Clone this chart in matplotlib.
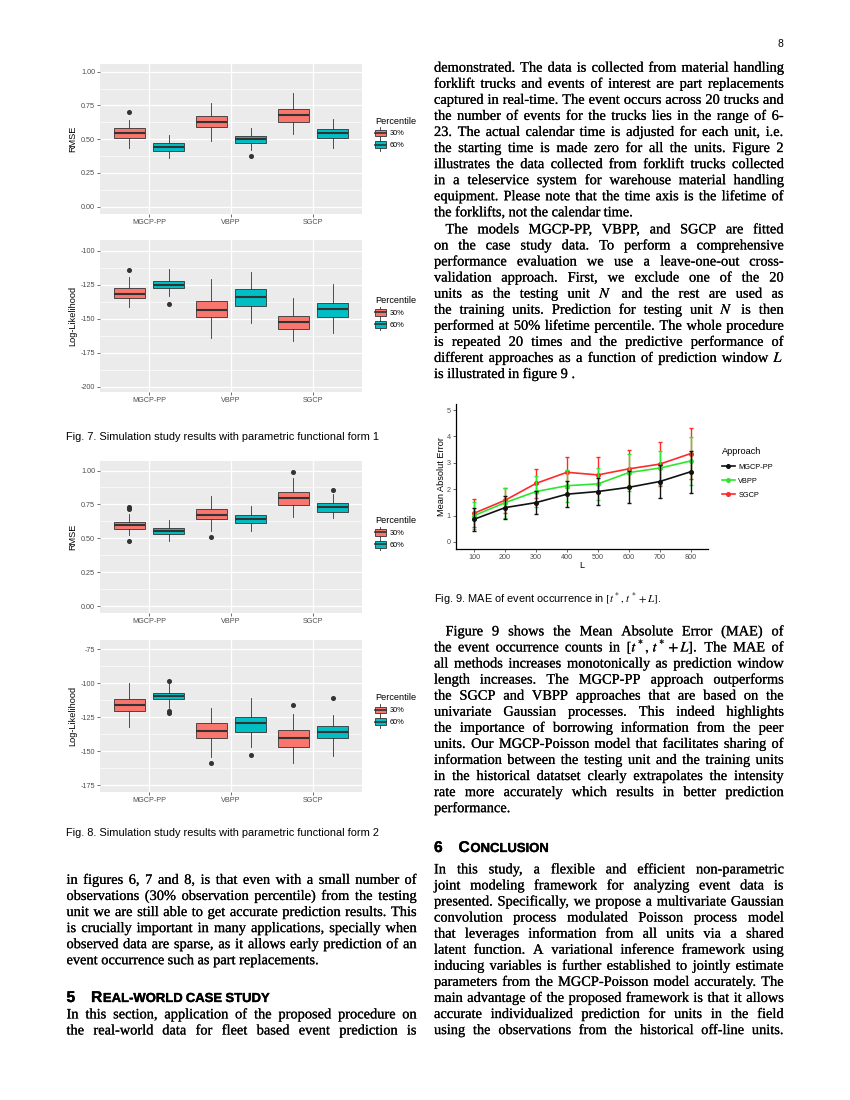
import matplotlib
matplotlib.use('Agg')
import matplotlib.pyplot as plt
import numpy as np
from matplotlib.transforms import IdentityTransform
from matplotlib.legend_handler import HandlerBase
from matplotlib.patches import Rectangle, Patch
from matplotlib.lines import Line2D
import matplotlib.patheffects as pe

plt.rcParams['mathtext.fontset'] = 'stix'

# ---------------- data ----------------
methods = ["MGCP-PP", "VBPP", "SGCP"]
percentiles = ["30%", "60%"]
fills = ["#F8766D", "#00BFC4"]

# Fig 7 RMSE  (rows: 30%, 60%; cols: MGCP-PP, VBPP, SGCP)
f7_rmse_q1 = [[0.511, 0.588, 0.630], [0.415, 0.472, 0.509]]
f7_rmse_med = [[0.548, 0.627, 0.679], [0.442, 0.499, 0.548]]
f7_rmse_q3 = [[0.580, 0.674, 0.721], [0.469, 0.523, 0.578]]
f7_rmse_lo = [[0.437, 0.486, 0.538], [0.363, 0.420, 0.437]]
f7_rmse_hi = [[0.642, 0.770, 0.842], [0.531, 0.580, 0.647]]
f7_rmse_out = [[[0.70], [], []], [[], [0.378], []]]

# Fig 7 Log-likelihood
f7_ll_q1 = [[-135.0, -148.5, -157.8], [-127.7, -140.7, -149.0]]
f7_ll_med = [[-131.6, -143.9, -152.5], [-125.2, -134.0, -143.1]]
f7_ll_q3 = [[-127.7, -136.8, -148.0], [-122.0, -128.4, -138.5]]
f7_ll_lo = [[-141.2, -164.0, -166.4], [-133.3, -152.9, -160.3]]
f7_ll_hi = [[-119.6, -121.0, -134.6], [-113.7, -116.0, -124.8]]
f7_ll_out = [[[-114.2], [], []], [[-139.2], [], []]]

# Fig 8 RMSE
f8_rmse_q1 = [[0.569, 0.643, 0.746], [0.534, 0.616, 0.697]]
f8_rmse_med = [[0.596, 0.672, 0.800], [0.554, 0.643, 0.732]]
f8_rmse_q3 = [[0.623, 0.717, 0.845], [0.574, 0.670, 0.759]]
f8_rmse_lo = [[0.525, 0.554, 0.655], [0.480, 0.554, 0.648]]
f8_rmse_hi = [[0.677, 0.813, 0.943], [0.633, 0.736, 0.825]]
f8_rmse_out = [[[0.734, 0.722, 0.715, 0.480], [0.512], [0.988]], [[], [], [0.855]]]

# Fig 8 Log-likelihood
f8_ll_q1 = [[-120.7, -140.6, -146.7], [-111.9, -135.7, -140.1]]
f8_ll_med = [[-116.3, -135.2, -139.9], [-109.2, -129.5, -135.7]]
f8_ll_q3 = [[-111.4, -129.0, -134.5], [-107.0, -125.1, -131.3]]
f8_ll_lo = [[-132.0, -154.0, -158.3], [-118.0, -146.7, -153.4]]
f8_ll_hi = [[-100.0, -118.0, -122.9], [-100.8, -110.6, -123.4]]
f8_ll_out = [[[], [-158.5], [-116.0]], [[-98.1, -120.5, -121.7], [-152.9], [-111.1]]]

# Fig 9 MAE
L_values = [100, 200, 300, 400, 500, 600, 700, 800]
mae_mgcp = [0.86, 1.30, 1.49, 1.81, 1.91, 2.07, 2.29, 2.66]
sd_mgcp = [0.44, 0.43, 0.43, 0.50, 0.51, 0.60, 0.62, 0.80]
mae_vbpp = [1.00, 1.49, 1.91, 2.13, 2.20, 2.63, 2.80, 3.07]
sd_vbpp = [0.50, 0.57, 0.60, 0.60, 0.62, 0.70, 0.65, 0.90]
mae_sgcp = [1.09, 1.58, 2.22, 2.64, 2.54, 2.77, 2.95, 3.35]
sd_sgcp = [0.52, 0.48, 0.56, 0.58, 0.69, 0.73, 0.83, 0.96]
approaches = ["MGCP-PP", "VBPP", "SGCP"]
approach_colors = ["#111111", "#2EE62E", "#FF2A2A"]

# ---------------- text ----------------
par_right_a = [
    "demonstrated. The data is collected from material handling",
    "forklift trucks and events of interest are part replacements",
    "captured in real-time. The event occurs across 20 trucks and",
    "the number of events for the trucks lies in the range of 6-",
    "23. The actual calendar time is adjusted for each unit, i.e.",
    "the starting time is made zero for all the units. Figure 2",
    "illustrates the data collected from forklift trucks collected",
    "in a teleservice system for warehouse material handling",
    "equipment. Please note that the time axis is the lifetime of",
    "the forklifts, not the calendar time.",
]
par_right_b = [
    "The models MGCP-PP, VBPP, and SGCP are fitted",
    "on the case study data. To perform a comprehensive",
    "performance evaluation we use a leave-one-out cross-",
    "validation approach. First, we exclude one of the 20",
    "units as the testing unit $N$ and the rest are used as",
    "the training units. Prediction for testing unit $N$ is then",
    "performed at 50% lifetime percentile. The whole procedure",
    "is repeated 20 times and the predictive performance of",
    "different approaches as a function of prediction window $L$",
    "is illustrated in figure 9 .",
]
par_right_c = [
    "Figure 9 shows the Mean Absolute Error (MAE) of",
    "the event occurrence counts in $[t^*,\\,t^*+L]$. The MAE of",
    "all methods increases monotonically as prediction window",
    "length increases. The MGCP-PP approach outperforms",
    "the SGCP and VBPP approaches that are based on the",
    "univariate Gaussian processes. This indeed highlights",
    "the importance of borrowing information from the peer",
    "units. Our MGCP-Poisson model that facilitates sharing of",
    "information between the testing unit and the training units",
    "in the historical datatset clearly extrapolates the intensity",
    "rate more accurately which results in better prediction",
    "performance.",
]
par_right_d = [
    "In this study, a flexible and efficient non-parametric",
    "joint modeling framework for analyzing event data is",
    "presented. Specifically, we propose a multivariate Gaussian",
    "convolution process modulated Poisson process model",
    "that leverages information from all units via a shared",
    "latent function. A variational inference framework using",
    "inducing variables is further established to jointly estimate",
    "parameters from the MGCP-Poisson model accurately. The",
    "main advantage of the proposed framework is that it allows",
    "accurate individualized prediction for units in the field",
    "using the observations from the historical off-line units.",
]
par_left_e = [
    "in figures 6, 7 and 8, is that even with a small number of",
    "observations (30% observation percentile) from the testing",
    "unit we are still able to get accurate prediction results. This",
    "is crucially important in many applications, specially when",
    "observed data are sparse, as it allows early prediction of an",
    "event occurrence such as part replacements.",
]
par_left_f = [
    "In this section, application of the proposed procedure on",
    "the real-world data for fleet based event prediction is",
]
cap7 = "Fig. 7. Simulation study results with parametric functional form 1"
cap8 = "Fig. 8. Simulation study results with parametric functional form 2"
cap9 = "Fig. 9. MAE of event occurrence in $[t^*,\\,t^*+L]$."

# ---------------- figure ----------------
W, H = 850, 1100
fig = plt.figure(figsize=(8.5, 11), dpi=100)
fig.patch.set_facecolor('white')
IDT = IdentityTransform()
R = fig.canvas.get_renderer()

SANS = 'Liberation Sans'
SERIF = 'Liberation Serif'


def T(x, y, s, **kw):
    return fig.text(x, H - y, s, transform=IDT, **kw)


def measure(s, **kw):
    t = fig.text(0, 0, s, transform=IDT, **kw)
    w = t.get_window_extent(renderer=R).width
    t.remove()
    return w


def axes_px(x0, y0, x1, y1):
    return fig.add_axes([x0 / W, 1 - y1 / H, (x1 - x0) / W, (y1 - y0) / H])


class BoxKey(HandlerBase):
    def create_artists(self, legend, orig, xd, yd, width, height, fontsize, trans):
        x0, y0 = -xd, -yd
        cx = x0 + width / 2
        wl = Line2D([cx, cx], [y0 - 0.15 * height, y0 + 1.15 * height],
                    color='#333333', lw=0.6, transform=trans)
        rect = Rectangle((x0, y0 + 0.12 * height), width, 0.76 * height,
                         facecolor=orig.get_facecolor(), edgecolor='#333333',
                         lw=0.6, transform=trans)
        md = Line2D([x0, x0 + width], [y0 + 0.5 * height] * 2,
                    color='#333333', lw=1.2, transform=trans)
        return [wl, rect, md]


def box_panel(rect, q1, med, q3, lo, hi, out, ylim, yticks, ylabels, yminor,
              ylabel, leg_title_y):
    ax = axes_px(*rect)
    ax.set_facecolor('#EBEBEB')
    offsets = [-0.24, 0.24]
    for k in range(2):
        stats = []
        for j in range(3):
            stats.append(dict(q1=q1[k][j], med=med[k][j], q3=q3[k][j],
                              whislo=lo[k][j], whishi=hi[k][j],
                              fliers=out[k][j]))
        ax.bxp(stats, positions=np.arange(3) + offsets[k], widths=0.38,
               patch_artist=True, showcaps=False, manage_ticks=False,
               boxprops=dict(facecolor=fills[k], edgecolor='#333333', linewidth=0.6),
               whiskerprops=dict(color='#333333', linewidth=0.6),
               medianprops=dict(color='#333333', linewidth=1.5),
               flierprops=dict(marker='o', markerfacecolor='#333333',
                               markeredgecolor='#333333', markersize=2.6),
               zorder=3)
    ax.set_xlim(-0.6, 2.6)
    ax.set_ylim(*ylim)
    ax.set_xticks(range(3))
    ax.set_xticklabels(methods)
    ax.set_yticks(yticks)
    ax.set_yticklabels(ylabels)
    ax.set_yticks(yminor, minor=True)
    ax.grid(which='major', color='white', lw=0.9)
    ax.grid(which='minor', axis='y', color='white', lw=0.45)
    ax.set_axisbelow(True)
    for s in ax.spines.values():
        s.set_visible(False)
    ax.tick_params(which='major', length=2, width=0.5, color='#333333',
                   labelsize=5.2, labelcolor='#4D4D4D', pad=1.5)
    ax.tick_params(which='minor', length=0)
    for lab in ax.get_xticklabels() + ax.get_yticklabels():
        lab.set_family(SANS)
    x0, y0, x1, y1 = rect
    T(73, (y0 + y1) / 2, ylabel, rotation=90, ha='center', va='center',
      fontsize=6.6, family=SANS, color='black')
    handles = [Patch(facecolor=c) for c in fills]
    fig.legend(handles, percentiles, handler_map={Patch: BoxKey()},
               loc='upper left',
               bbox_to_anchor=(375 / W, 1 - (leg_title_y - 5.5) / H),
               frameon=False, borderpad=0, borderaxespad=0,
               handlelength=1.45, handleheight=1.5, handletextpad=0.6,
               labelspacing=0.4, title='Percentile', alignment='left',
               prop=dict(family=SANS, size=5.3),
               title_fontproperties=dict(family=SANS, size=6.6))
    return ax


box_panel((100, 64, 362, 214), f7_rmse_q1, f7_rmse_med, f7_rmse_q3, f7_rmse_lo,
          f7_rmse_hi, f7_rmse_out, (-0.054, 1.057), [0, 0.25, 0.5, 0.75, 1.0],
          ["0.00", "0.25", "0.50", "0.75", "1.00"], [0.125, 0.375, 0.625, 0.875],
          "RMSE", 122)
box_panel((100, 240, 362, 392), f7_ll_q1, f7_ll_med, f7_ll_q3, f7_ll_lo,
          f7_ll_hi, f7_ll_out, (-203.9, -92.1), [-200, -175, -150, -125, -100],
          ["-200", "-175", "-150", "-125", "-100"], [-187.5, -162.5, -137.5, -112.5],
          "Log-Likelihood", 301.5)
box_panel((100, 461, 362, 613), f8_rmse_q1, f8_rmse_med, f8_rmse_q3, f8_rmse_lo,
          f8_rmse_hi, f8_rmse_out, (-0.05, 1.07), [0, 0.25, 0.5, 0.75, 1.0],
          ["0.00", "0.25", "0.50", "0.75", "1.00"], [0.125, 0.375, 0.625, 0.875],
          "RMSE", 521.5)
box_panel((100, 640, 362, 792), f8_ll_q1, f8_ll_med, f8_ll_q3, f8_ll_lo,
          f8_ll_hi, f8_ll_out, (-180.0, -68.1), [-175, -150, -125, -100, -75],
          ["-175", "-150", "-125", "-100", "-75"], [-162.5, -137.5, -112.5, -87.5],
          "Log-Likelihood", 699)

# ---------------- Fig 9 ----------------
ax9 = axes_px(456, 404, 708, 549)
means = [mae_mgcp, mae_vbpp, mae_sgcp]
sds = [sd_mgcp, sd_vbpp, sd_sgcp]
for k in [2, 1, 0]:
    ax9.errorbar(L_values, means[k], yerr=sds[k], color=approach_colors[k],
                 lw=1.2, elinewidth=1.0, capsize=1.6, capthick=1.0,
                 marker='o', ms=2.6, zorder=3 + (2 - k))
handles9 = [Line2D([], [], color=approach_colors[k], lw=1.2, marker='o', ms=2.6)
            for k in range(3)]
ax9.set_xlim(41, 856)
ax9.set_ylim(-0.27, 5.23)
ax9.set_xticks(L_values)
ax9.set_yticks([0, 1, 2, 3, 4, 5])
for s in ['top', 'right']:
    ax9.spines[s].set_visible(False)
for s in ['left', 'bottom']:
    ax9.spines[s].set_linewidth(0.9)
    ax9.spines[s].set_color('black')
ax9.tick_params(length=2.2, width=0.5, color='#333333', labelsize=5.2,
                labelcolor='#4D4D4D', pad=1.5)
for lab in ax9.get_xticklabels() + ax9.get_yticklabels():
    lab.set_family(SANS)
T(441, 476, "Mean Absolut Error", rotation=90, ha='center', va='center',
  fontsize=6.6, family=SANS)
T(581.5, 566, "L", ha='center', va='center', fontsize=6.6, family=SANS)
fig.legend(handles9, approaches, loc='upper left',
           bbox_to_anchor=(722 / W, 1 - 447.5 / H), frameon=False,
           borderpad=0, borderaxespad=0, handlelength=1.7, handletextpad=0.5,
           labelspacing=0.95, title='Approach', alignment='left',
           prop=dict(family=SANS, size=5.3),
           title_fontproperties=dict(family=SANS, size=6.6))

# ---------------- text layout ----------------
LX0, LX1 = 66.5, 416.5
RX0, RX1 = 434.0, 783.5
COLW = LX1 - LX0

ref_lines = ["the forklifts, not the calendar time.", "is illustrated in figure 9 .",
             "performance.", "event occurrence such as part replacements."]
ref_widths = [197, 160, 73, 256]
body_size = 10.0 * sum(ref_widths) / sum(measure(s, fontsize=10, family=SERIF)
                                         for s in ref_lines)


def natural(line, size):
    words = line.split(' ')
    sp = measure('n n', fontsize=size, family=SERIF) - measure('nn', fontsize=size, family=SERIF)
    return sum(measure(w, fontsize=size, family=SERIF) for w in words) + sp * (len(words) - 1)


all_lines = par_right_a + par_right_b + par_right_c + par_right_d + par_left_e + par_left_f
mx = max(natural(l, body_size) for l in all_lines)
if mx > COLW - 3:
    body_size *= (COLW - 3) / mx

BODY = dict(fontsize=body_size, family=SERIF, color='black')
STROKE = [pe.withStroke(linewidth=0.12, foreground='black')]


def draw_par(lines, x0, x1, yc0, dy, indent=0.0, justify_last=False):
    sp = measure('n n', **BODY) - measure('nn', **BODY)
    for i, line in enumerate(lines):
        xs = x0 + (indent if i == 0 else 0.0)
        yb = yc0 + i * dy + 3.4
        words = line.split(' ')
        ws = [measure(w, **BODY) for w in words]
        last = (i == len(lines) - 1) and not justify_last
        if last or len(words) == 1:
            gap = sp
        else:
            gap = (x1 - xs - sum(ws)) / (len(words) - 1)
        x = xs
        for w, wd in zip(words, ws):
            T(x, yb, w, ha='left', va='baseline', path_effects=STROKE, **BODY)
            x += wd + gap


DY = 16.07
draw_par(par_right_a, RX0, RX1, 68.3, DY)
draw_par(par_right_b, RX0, RX1, 230.0, DY, indent=11.5)
draw_par(par_right_c, RX0, RX1, 632.0, DY, indent=11.5)
draw_par(par_right_d, RX0, RX1, 870.0, DY, justify_last=True)
draw_par(par_left_e, LX0, LX1, 880.5, DY)
draw_par(par_left_f, LX0, LX1, 1015.0, DY, justify_last=True)

cap_size = 10.0 * 313 / measure(cap8, fontsize=10, family=SANS)
CAP = dict(fontsize=cap_size, family=SANS, color='black')
T(LX0, 439.5, cap7, ha='left', va='baseline', **CAP)
T(LX0, 835.5, cap8, ha='left', va='baseline', **CAP)
T(RX0, 602.5, cap9, ha='left', va='baseline', **CAP)

# page number
T(783.5, 47, "8", ha='right', va='baseline', fontsize=7.5, family=SANS)

HSTROKE = [pe.withStroke(linewidth=0.25, foreground='black')]


def heading(x, yb, num, parts, big=11.2, small=9.4):
    HK = dict(family=SANS, weight='bold', color='black')
    T(x, yb, num, ha='left', va='baseline', fontsize=big, path_effects=HSTROKE, **HK)
    xx = x + 24.5
    sp = measure('N N', fontsize=small, **HK) - measure('NN', fontsize=small, **HK)
    for wi, (cap, rest) in enumerate(parts):
        if wi > 0:
            xx += sp
        if cap:
            T(xx, yb, cap, ha='left', va='baseline', fontsize=big,
              path_effects=HSTROKE, **HK)
            xx += measure(cap, fontsize=big, **HK) + 0.8
        T(xx, yb, rest, ha='left', va='baseline', fontsize=small,
          path_effects=HSTROKE, **HK)
        xx += measure(rest, fontsize=small, **HK)


heading(RX0, 852.0, "6", [("C", "ONCLUSION")])
heading(LX0, 1002.0, "5", [("R", "EAL-WORLD"), ("", "CASE"), ("", "STUDY")])

fig.savefig("out.png", dpi=100, facecolor='white')
